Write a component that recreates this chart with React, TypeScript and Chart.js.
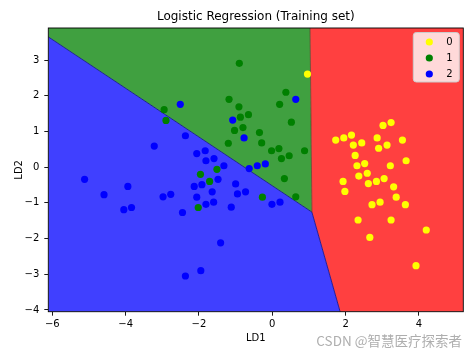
import React, { useEffect, useRef } from 'react';
import { Chart, registerables } from 'chart.js';

Chart.register(...registerables);

const titleText = 'Logistic Regression (Training set)';
const xLabel = 'LD1';
const yLabel = 'LD2';
const watermark = 'CSDN @智慧医疗探索者';
const classLabels = ['0', '1', '2'];
const classColors = ['#ffff00', '#008000', '#0000ff'];

const class0X = [3.02, 3.24, 1.73, 1.95, 2.16, 2.21, 2.44, 2.86, 2.90, 3.13, 3.55, 2.26, 3.65, 2.31, 2.52, 3.22, 2.36, 2.59, 1.93, 2.62, 2.84, 3.05, 3.31, 1.98, 3.38, 2.72, 2.94, 3.63, 2.34, 3.24, 4.20, 2.66, 3.92, 0.96];
const class0Y = [1.17, 1.25, 0.76, 0.82, 0.90, 0.62, 0.68, 0.82, 0.53, 0.62, 0.76, 0.33, 0.18, 0.04, 0.10, 0.04, -0.25, -0.17, -0.40, -0.46, -0.40, -0.32, -0.55, -0.68, -0.84, -1.05, -0.98, -1.05, -1.48, -1.48, -1.76, -1.97, -2.76, 2.61];

const class1X = [-0.90, 0.37, 0.20, -1.18, -0.91, -2.95, -2.90, -0.87, -0.65, -1.03, -0.80, -0.35, 0.52, -1.20, -0.29, -0.02, 0.18, 0.88, 0.25, 0.46, -1.51, -1.96, -1.71, -2.02, -0.27, 0.33, 0.64];
const class1Y = [2.91, 2.10, 1.76, 1.90, 1.69, 1.61, 1.31, 1.40, 1.47, 1.03, 1.11, 0.97, 1.26, 0.67, 0.68, 0.46, 0.52, 0.46, 0.24, 0.32, -0.06, -0.20, -0.40, -1.13, -0.84, -0.32, -0.83];

const class2X = [-5.12, -4.59, -3.94, -4.05, -3.84, -2.06, -1.83, -1.59, -1.81, -1.32, -0.63, -0.41, -0.19, -2.13, -1.92, -1.48, -1.64, -2.06, -1.00, -0.95, -0.73, -2.98, -2.77, -1.81, -1.60, -1.12, -2.45, -0.01, 0.21, -1.41, -1.95, -2.37, 0.64, -2.51, -1.08, -2.37, -0.77, -3.22];
const class2Y = [-0.34, -0.77, -0.54, -1.19, -1.13, 0.38, 0.46, 0.24, 0.18, 0.04, -0.04, 0.04, 0.09, -0.54, -0.49, -0.34, -0.69, -0.84, -0.47, -0.75, -0.69, -0.83, -0.76, -1.04, -0.98, -1.12, -1.27, -1.04, -0.98, -2.12, -2.90, -3.05, 1.90, 1.76, 1.32, 0.88, 0.82, 0.59];

const xTicks = [-6, -4, -2, 0, 2, 4];
const yTicks = [-4, -3, -2, -1, 0, 1, 2, 3];
const xLimits = [-6.11, 5.21];
const yLimits = [-4.05, 3.9];

// decision regions (polygon vertices)
const blueRegionX = [-6.11, 1.08, 1.85, -6.11];
const blueRegionY = [3.65, -1.26, -4.05, -4.05];
const greenRegionX = [-6.11, 1.03, 1.08, -6.11];
const greenRegionY = [3.9, 3.9, -1.26, 3.65];
const redRegionX = [1.03, 5.21, 5.21, 1.85, 1.08];
const redRegionY = [3.9, 3.9, -4.05, -4.05, -1.26];
const regionColors = ['rgba(255,0,0,0.75)', 'rgba(0,128,0,0.75)', 'rgba(0,0,255,0.75)'];

// boundary edges
const blueEdgeX = [-6.11, 1.08, 1.85];
const blueEdgeY = [3.65, -1.26, -4.05];
const redEdgeX = [1.03, 1.08];
const redEdgeY = [3.9, -1.26];

const zip = (xs: number[], ys: number[]) => xs.map((x, i) => ({ x, y: ys[i] }));
const fmt = (v: number | string) => String(v).replace('-', '\u2212');

const FONT = '"DejaVu Sans", sans-serif';

const decorPlugin = {
  id: 'decor',
  afterDatasetsDraw(chart: any) {
    const { ctx, chartArea } = chart;
    const { left, right, top, bottom } = chartArea;
    ctx.save();
    // frame
    ctx.strokeStyle = '#000';
    ctx.lineWidth = 0.9;
    ctx.strokeRect(left, top, right - left, bottom - top);
    // legend
    const bw = 46, bh = 49.5;
    const bx = right - 4 - bw;
    const by = top + 4.5;
    ctx.beginPath();
    const r = 3;
    ctx.moveTo(bx + r, by);
    ctx.lineTo(bx + bw - r, by);
    ctx.quadraticCurveTo(bx + bw, by, bx + bw, by + r);
    ctx.lineTo(bx + bw, by + bh - r);
    ctx.quadraticCurveTo(bx + bw, by + bh, bx + bw - r, by + bh);
    ctx.lineTo(bx + r, by + bh);
    ctx.quadraticCurveTo(bx, by + bh, bx, by + bh - r);
    ctx.lineTo(bx, by + r);
    ctx.quadraticCurveTo(bx, by, bx + r, by);
    ctx.closePath();
    ctx.fillStyle = 'rgba(255,255,255,0.8)';
    ctx.fill();
    ctx.strokeStyle = '#cccccc';
    ctx.lineWidth = 1;
    ctx.stroke();
    ctx.font = `10px ${FONT}`;
    ctx.textAlign = 'left';
    ctx.textBaseline = 'middle';
    classLabels.forEach((lab, i) => {
      const cy = by + 9.5 + i * 16;
      ctx.beginPath();
      ctx.arc(bx + 16, cy, 3.6, 0, Math.PI * 2);
      ctx.fillStyle = classColors[i];
      ctx.fill();
      ctx.fillStyle = '#000';
      ctx.fillText(lab, bx + 33, cy + 0.5);
    });
    ctx.restore();
  },
  afterDraw(chart: any) {
    const { ctx, chartArea } = chart;
    ctx.save();
    ctx.fillStyle = '#000';
    ctx.font = `12px ${FONT}`;
    ctx.textAlign = 'center';
    ctx.textBaseline = 'middle';
    ctx.fillText(titleText, (chartArea.left + chartArea.right) / 2, 17);
    ctx.fillStyle = 'rgba(165,165,165,0.9)';
    ctx.font = '13.5px "Noto Sans CJK SC", sans-serif';
    ctx.textAlign = 'right';
    ctx.fillText(watermark, 462, 341);
    ctx.restore();
  },
};

export default function App() {
  const ref = useRef<HTMLCanvasElement>(null);
  useEffect(() => {
    if (!ref.current) return;
    const regionDs = (xs: number[], ys: number[], color: string) => ({
      type: 'line' as const,
      data: zip(xs, ys),
      fill: 'shape',
      backgroundColor: color,
      borderWidth: 0,
      borderColor: 'transparent',
      pointRadius: 0,
      tension: 0,
      order: 10,
    });
    const edgeDs = (xs: number[], ys: number[], color: string) => ({
      type: 'line' as const,
      data: zip(xs, ys),
      fill: false,
      borderColor: color,
      borderWidth: 1,
      pointRadius: 0,
      tension: 0,
      order: 5,
    });
    const ptDs = (xs: number[], ys: number[], i: number) => ({
      type: 'scatter' as const,
      label: classLabels[i],
      data: zip(xs, ys),
      backgroundColor: classColors[i],
      borderWidth: 0,
      pointRadius: 3.6,
      pointHoverRadius: 3.6,
      order: 2 - i,
    });
    const tickFont = { family: FONT, size: 10 };
    const chart = new Chart(ref.current, {
      type: 'scatter',
      data: {
        datasets: [
          ptDs(class0X, class0Y, 0),
          ptDs(class1X, class1Y, 1),
          ptDs(class2X, class2Y, 2),
          edgeDs(blueEdgeX, blueEdgeY, 'rgba(20,20,150,0.9)'),
          edgeDs(redEdgeX, redEdgeY, 'rgba(90,60,40,0.7)'),
          regionDs(redRegionX, redRegionY, regionColors[0]),
          regionDs(greenRegionX, greenRegionY, regionColors[1]),
          regionDs(blueRegionX, blueRegionY, regionColors[2]),
        ] as any,
      },
      options: {
        responsive: false,
        animation: false,
        events: [],
        layout: { padding: { top: 28, right: 10.7, bottom: 0, left: 0 } },
        plugins: {
          legend: { display: false },
          title: { display: false },
          tooltip: { enabled: false },
        },
        scales: {
          x: {
            type: 'linear',
            min: xLimits[0],
            max: xLimits[1],
            afterBuildTicks: (s: any) => { s.ticks = xTicks.map((v) => ({ value: v })); },
            afterFit: (s: any) => { s.height = 43.3; },
            ticks: { font: tickFont, color: '#000', padding: 3, maxRotation: 0, autoSkip: false, callback: (v: any) => fmt(v) },
            grid: { display: true, drawOnChartArea: false, drawTicks: true, tickLength: 4, color: '#000', lineWidth: 0.9 },
            border: { display: false },
            title: { display: true, text: xLabel, font: tickFont, color: '#000', padding: { top: 0, bottom: 10.7 } },
          },
          y: {
            type: 'linear',
            min: yLimits[0],
            max: yLimits[1],
            afterBuildTicks: (s: any) => { s.ticks = yTicks.map((v) => ({ value: v })); },
            afterFit: (s: any) => { s.width = 48.3; },
            ticks: { font: tickFont, color: '#000', padding: 5, autoSkip: false, callback: (v: any) => fmt(v) },
            grid: { display: true, drawOnChartArea: false, drawTicks: true, tickLength: 4, color: '#000', lineWidth: 0.9 },
            border: { display: false },
            title: { display: true, text: yLabel, font: tickFont, color: '#000', padding: { top: 13, bottom: 0 } },
          },
        },
      } as any,
      plugins: [decorPlugin],
    });
    return () => chart.destroy();
  }, []);
  return (
    <div style={{ position: 'fixed', left: 0, top: 0, width: 474, height: 355, background: '#fff' }}>
      <canvas ref={ref} width={474} height={355} style={{ display: 'block' }} />
    </div>
  );
}
